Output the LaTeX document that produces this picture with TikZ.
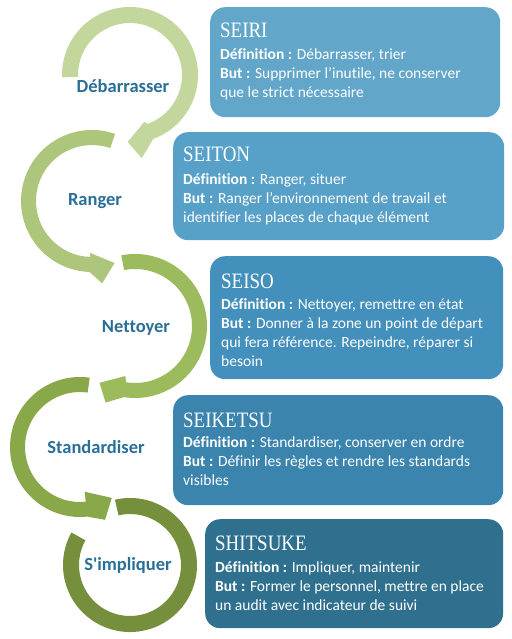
\documentclass[tikz,border=0pt]{standalone}
\usepackage{fontspec}
\setmainfont{Carlito}[Ligatures={NoCommon}]
\newfontfamily\plainfont{Carlito}[Ligatures={NoCommon}]
\newfontfamily\titlefont[FakeStretch=0.86]{Liberation Serif}
\definecolor{arcA}{HTML}{C3D69B}
\definecolor{arcB}{HTML}{ADC67C}
\definecolor{arcC}{HTML}{9CBB5C}
\definecolor{arcD}{HTML}{89A84A}
\definecolor{arcE}{HTML}{758F3C}
\definecolor{boxA}{HTML}{62A7CA}
\definecolor{boxB}{HTML}{57A0C8}
\definecolor{boxC}{HTML}{4390BC}
\definecolor{boxD}{HTML}{3A84AD}
\definecolor{boxE}{HTML}{30708F}
\definecolor{labelblue}{HTML}{2A6F97}
\tikzset{
  card/.style={draw=none, rounded corners=15pt, anchor=north west, inner sep=0pt},
  cardtitle/.style={anchor=base west, inner sep=0pt, text=white, font=\titlefont\fontsize{22}{24}\selectfont},
  cardline/.style={anchor=base west, inner sep=0pt, text=white, font=\plainfont\fontsize{15.5}{19}\selectfont},
  steplabel/.style={inner sep=0pt, text=labelblue, font=\plainfont\bfseries\fontsize{18.5}{22}\selectfont},
}
\begin{document}
\begin{tikzpicture}[x=1pt,y=1pt]
\useasboundingbox (0,0) rectangle (511,-639);
% circular arrows
\begin{scope}[shift={(130,-75)}]
\fill[arcA] (182:52) -- (182:68) arc[start angle=182,end angle=-70,radius=68]
  -- (-82:84) -- (-92:67) -- (-73:49) -- (-70:52)
  arc[start angle=-70,end angle=182,radius=52] -- cycle;
\end{scope}
\begin{scope}[shift={(92,-201)}]
\fill[arcB] (71:56) -- (71:71) arc[start angle=71,end angle=268,radius=71]
  -- (277:83) -- (290:66) -- (268:52) -- (268:56)
  arc[start angle=268,end angle=71,radius=56] -- cycle;
\end{scope}
\begin{scope}[shift={(135,-326)}]
\fill[arcC] (101:57) -- (101:72) arc[start angle=101,end angle=-99,radius=72]
  -- (-111:82) -- (-122:67) -- (-101:51) -- (-99:57)
  arc[start angle=-99,end angle=101,radius=57] -- cycle;
\end{scope}
\begin{scope}[shift={(80,-447)}]
\fill[arcD] (82:55) -- (82:70) arc[start angle=82,end angle=276,radius=70]
  -- (289:77) -- (302:60) -- (276:45) -- (276:55)
  arc[start angle=276,end angle=82,radius=55] -- cycle;
\end{scope}
\begin{scope}[shift={(130,-565)}]
\fill[arcE] (103:51) -- (103:67) arc[start angle=103,end angle=-209,radius=67]
  -- (-209:51) arc[start angle=-209,end angle=103,radius=51] -- cycle;
\end{scope}
% step labels
\node[steplabel] (l1) at (123,-86) {Débarrasser};
\node[steplabel] (l2) at (95,-201) {Ranger};
\node[steplabel] (l3) at (136,-328) {Nettoyer};
\node[steplabel] (l4) at (96,-447) {Standardiser};
\node[steplabel] (l5) at (128,-565) {S\symbol{39}impliquer};
% cards
\node[card, fill=boxA, minimum width=290pt, minimum height=110pt] (b1) at (210,-7) {};
\node[cardtitle] (h1) at (220,-38) {SEIRI};
\node[cardline] (d1) at (220,-60) {\textbf{Définition :} Débarrasser, trier};
\node[cardline] (p1a) at (220,-79) {\textbf{But :} Supprimer l’inutile, ne conserver};
\node[cardline] (p1b) at (220,-98) {que le strict nécessaire};

\node[card, fill=boxB, minimum width=331pt, minimum height=108pt] (b2) at (173,-132) {};
\node[cardtitle] (h2) at (183,-162) {SEITON};
\node[cardline] (d2) at (183,-184) {\textbf{Définition :} Ranger, situer};
\node[cardline] (p2a) at (183,-203) {\textbf{But :} Ranger l’environnement de travail et};
\node[cardline] (p2b) at (183,-222) {identifier les places de chaque élément};

\node[card, fill=boxC, minimum width=293pt, minimum height=123pt] (b3) at (210,-256) {};
\node[cardtitle] (h3) at (221,-288) {SEISO};
\node[cardline] (d3) at (221,-309) {\textbf{Définition :} Nettoyer, remettre en état};
\node[cardline] (p3a) at (221,-328) {\textbf{But :} Donner à la zone un point de départ};
\node[cardline] (p3b) at (221,-347) {qui fera référence. Repeindre, réparer si};
\node[cardline] (p3c) at (221,-366) {besoin};

\node[card, fill=boxD, minimum width=330pt, minimum height=110pt] (b4) at (173,-395) {};
\node[cardtitle] (h4) at (183,-427) {SEIKETSU};
\node[cardline] (d4) at (183,-447) {\textbf{Définition :} Standardiser, conserver en ordre};
\node[cardline] (p4a) at (183,-466) {\textbf{But :} Définir les règles et rendre les standards};
\node[cardline] (p4b) at (183,-485) {visibles};

\node[card, fill=boxE, minimum width=298pt, minimum height=109pt] (b5) at (205,-519) {};
\node[cardtitle] (h5) at (215,-550) {SHITSUKE};
\node[cardline] (d5) at (215,-572) {\textbf{Définition :} Impliquer, maintenir};
\node[cardline] (p5a) at (215,-591) {\textbf{But :} Former le personnel, mettre en place};
\node[cardline] (p5b) at (215,-610) {un audit avec indicateur de suivi};
\end{tikzpicture}
\end{document}
